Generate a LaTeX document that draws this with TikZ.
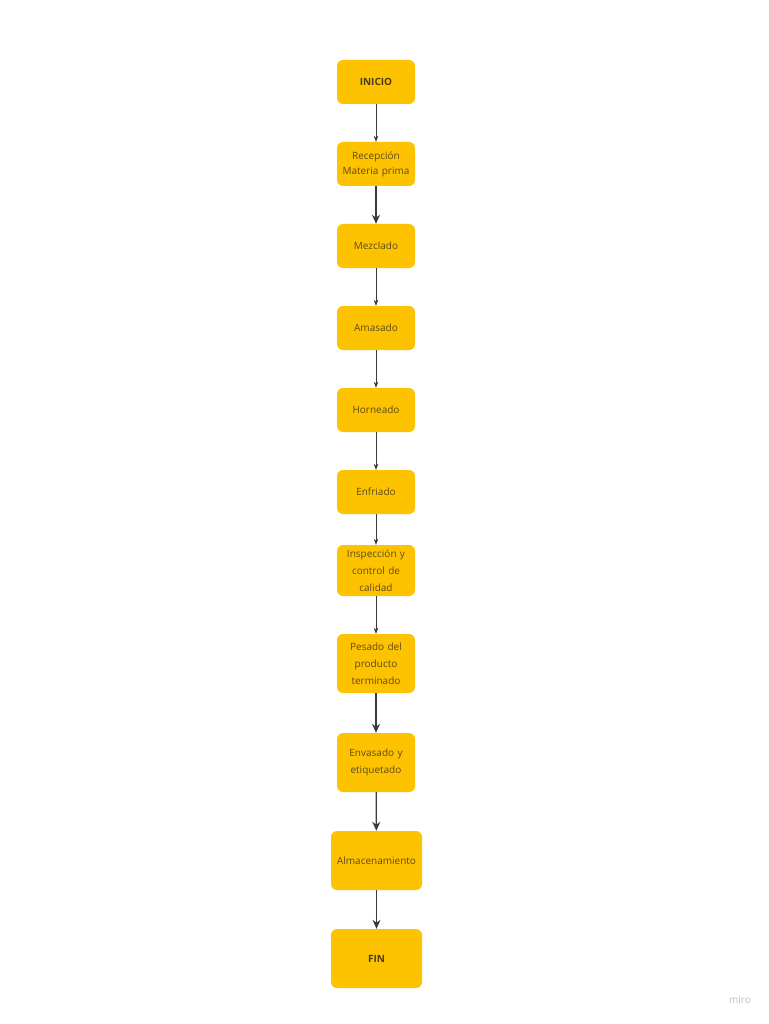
\documentclass[tikz,border=0pt]{standalone}
\usepackage{fontspec}
\setmainfont{Open Sans}
\usetikzlibrary{arrows.meta,positioning}
\definecolor{miroyellow}{HTML}{FEC300}
\definecolor{mirotext}{HTML}{5E4A14}
\definecolor{arrowgray}{HTML}{3A3A3A}
\begin{document}
\begin{tikzpicture}[x=1pt,y=-1pt,
  stepbox/.style={fill=miroyellow, draw=none, rounded corners=6pt,
    minimum width=78pt, text width=74pt, align=center, inner sep=0pt,
    font=\fontsize{10}{15}\selectfont, text=mirotext},
  bigbox/.style={stepbox, minimum width=91pt, text width=88pt},
  thinarrow/.style={draw=arrowgray, line width=0.6pt, -{Stealth[length=6pt,width=4.5pt]}},
  thickarrow/.style={draw=arrowgray, line width=1.3pt, -{Stealth[length=9pt,width=8pt]}},
  termtext/.style={font=\fontsize{10}{15}\selectfont\bfseries, text=mirotext!80!black}]
\useasboundingbox (0,0) rectangle (768,1024);
\fill[white] (0,0) rectangle (768,1024);
\node[stepbox, minimum height=44pt, termtext] (n1) at (376,82) {INICIO};
\node[stepbox, minimum height=44pt] (n2) at (376,164) {Recepción\\Materia prima};
\node[stepbox, minimum height=44pt] (n3) at (376,246) {Mezclado};
\node[stepbox, minimum height=44pt] (n4) at (376,328) {Amasado};
\node[stepbox, minimum height=44pt] (n5) at (376,410) {Horneado};
\node[stepbox, minimum height=44pt] (n6) at (376,492) {Enfriado};
\node[stepbox, minimum height=51pt, font=\fontsize{10}{17}\selectfont] (n7) at (376,570.5) {Inspección y\\control de\\calidad};
\node[stepbox, minimum height=59pt, font=\fontsize{10}{17}\selectfont] (n8) at (376,663.5) {Pesado del\\producto\\terminado};
\node[stepbox, minimum height=59pt, font=\fontsize{10}{17}\selectfont] (n9) at (376,762.5) {Envasado y\\etiquetado};
\node[bigbox, minimum height=59pt] (n10) at (376.5,860.5) {Almacenamiento};
\node[bigbox, minimum height=59pt, termtext] (n11) at (376.5,958.5) {FIN};
\draw[thinarrow] (n1) -- (n2);
\draw[thickarrow] (n2) -- (n3);
\draw[thinarrow] (n3) -- (n4);
\draw[thinarrow] (n4) -- (n5);
\draw[thinarrow] (n5) -- (n6);
\draw[thinarrow] (n6) -- (n7);
\draw[thinarrow] (n7) -- (n8);
\draw[thickarrow] (n8) -- (n9);
\draw[thickarrow] (n9) -- (n10);
\draw[thickarrow] (n10) -- (n11);
\node[font=\fontsize{10}{12}\selectfont, text=black!25] (miro) at (740,1000) {miro};
\end{tikzpicture}
\end{document}
